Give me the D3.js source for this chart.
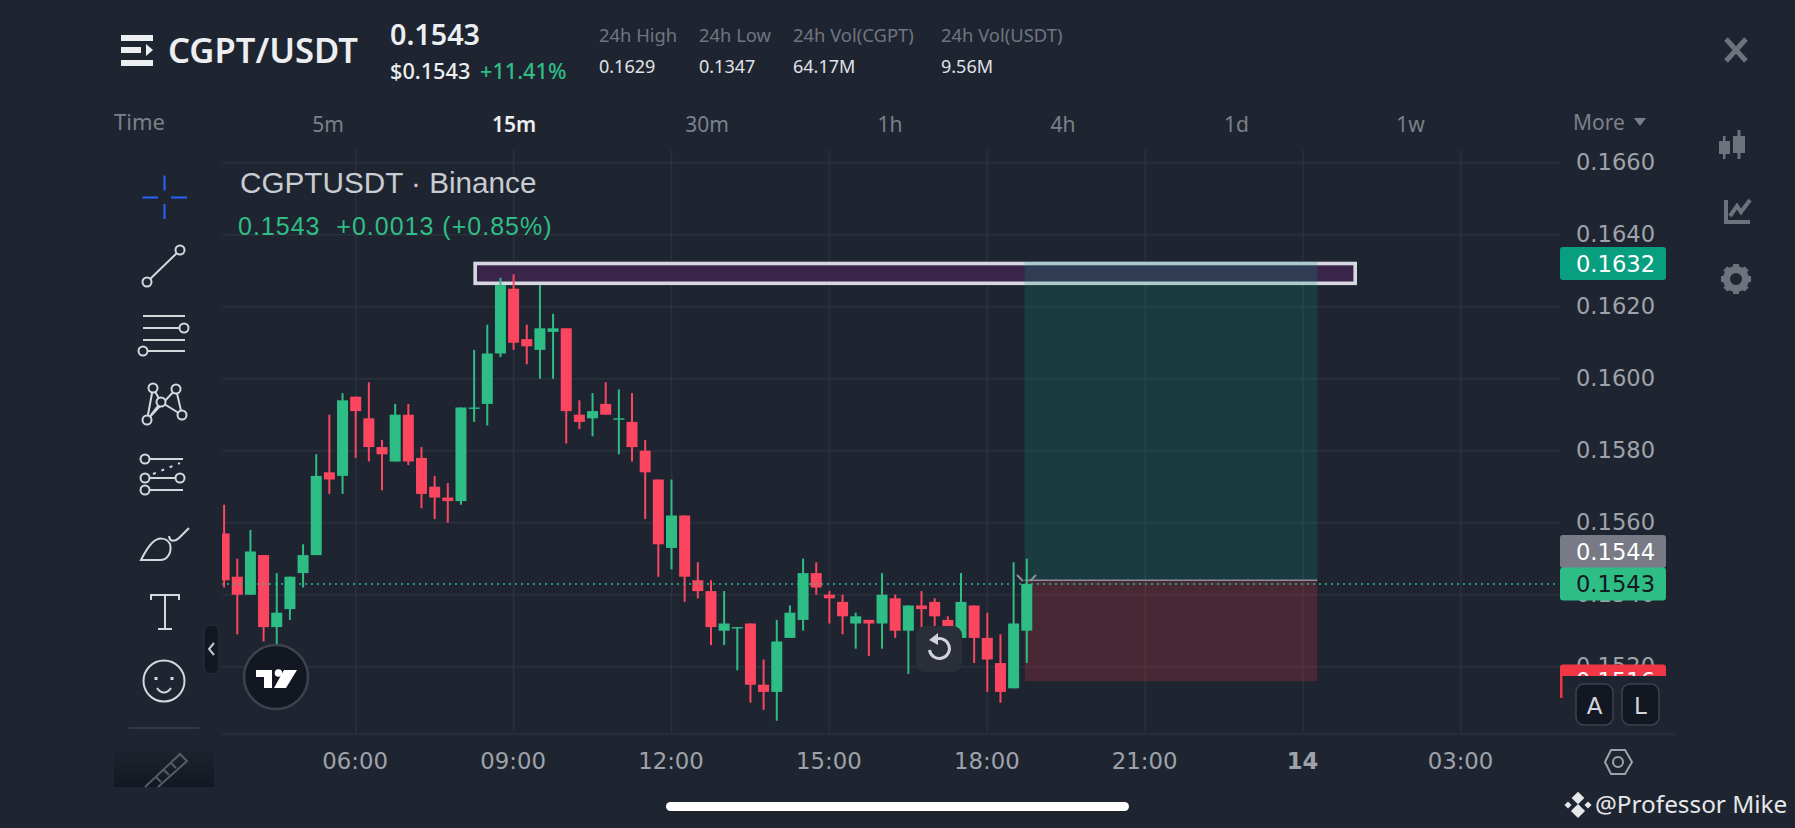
<!DOCTYPE html>
<html><head><meta charset="utf-8">
<script src="https://cdn.jsdelivr.net/npm/d3@7/dist/d3.min.js"></script>
<style>html,body{margin:0;padding:0;background:#1f2530;overflow:hidden}svg{display:block}</style>
</head><body><svg id="c" width="1795" height="828"></svg>
<script>
const startHour = 3.5, stepHour = 0.25;
const opens  = [.1557,.1545,.1540,.1551,.1531,.1536,.1546,.1551,.1574,.1573,.1595,.1589,.1581,.1577,.1590,.1578,.1570,.1567,.1566,.1592,.1593,.1607,.1625,.1611,.1608,.1613,.1614,.1590,.1589,.1593,.1589,.1588,.1580,.1572,.1553,.1562,.1544,.1541,.1530,.1531,.1532,.1515,.1513,.1528,.1533,.1546,.1540,.1538,.1532,.1533,.1532,.1539,.1530,.1537,.1538,.1533,.1528,.1537,.1528,.1521,.1514,.1530];
const highs  = [.1565,.1550,.1558,.1551,.1546,.1545,.1554,.1579,.1590,.1596,.1595,.1599,.1583,.1593,.1593,.1581,.1573,.1571,.1592,.1608,.1615,.1628,.1629,.1615,.1626,.1618,.1614,.1594,.1596,.1599,.1597,.1596,.1583,.1572,.1572,.1562,.1549,.1544,.1541,.1531,.1532,.1522,.1533,.1537,.1550,.1549,.1541,.1540,.1535,.1533,.1546,.1540,.1537,.1541,.1539,.1534,.1546,.1537,.1535,.1529,.1549,.1550];
const lows   = [.1542,.1529,.1540,.1527,.1525,.1533,.1542,.1551,.1568,.1568,.1578,.1577,.1569,.1577,.1576,.1564,.1561,.1560,.1565,.1588,.1587,.1606,.1608,.1604,.1600,.1600,.1582,.1586,.1584,.1590,.1579,.1577,.1561,.1545,.1547,.1538,.1539,.1526,.1526,.1519,.1510,.1508,.1505,.1528,.1530,.1540,.1532,.1529,.1525,.1523,.1525,.1528,.1518,.1530,.1531,.1528,.1528,.1521,.1513,.1510,.1514,.1521];
const closes = [.1544,.1540,.1552,.1531,.1535,.1545,.1551,.1573,.1572,.1594,.1591,.1581,.1579,.1590,.1577,.1568,.1567,.1566,.1592,.1592,.1607,.1626,.1610,.1609,.1614,.1614,.1591,.1588,.1591,.1590,.1589,.1581,.1574,.1554,.1562,.1545,.1541,.1531,.1532,.1531,.1515,.1513,.1527,.1535,.1546,.1542,.1539,.1534,.1534,.1532,.1540,.1530,.1537,.1536,.1534,.1530,.1538,.1528,.1522,.1513,.1532,.1543];
const priceTicks = [.1660,.1640,.1620,.1600,.1580,.1560,.1540,.1520];
const timeTicks = [6,9,12,15,18,21,24,27];
const timeLabels = ["06:00","09:00","12:00","15:00","18:00","21:00","14","03:00"];
const intervals = ["5m","15m","30m","1h","4h","1d","1w"];
const statLabels = ["24h High","24h Low","24h Vol(CGPT)","24h Vol(USDT)"];
const statValues = ["0.1629","0.1347","64.17M","9.56M"];
const zoneHigh=.1632, zoneLow=.16265, zoneStart=8.27, zoneEnd=24.99;
const posStart=18.71, posEnd=24.27, posTarget=.1632, posEntry=.1544, posStop=.1516, lastPrice=.1543;

const GREEN="#2ebd85",RED="#fc4660",BG="#1f2530",GRID="#2b313c",AXT="#9ea2aa",ICON="#d5d7dd",DIM="#6d727c";
const SANS="'Noto Sans',sans-serif", TV="'DejaVu Sans',sans-serif", LEG="'Liberation Sans',sans-serif";
const svg=d3.select("#c");
const x=d3.scaleLinear().domain([6,27]).range([355.7,1461]);
const y=d3.scaleLinear().domain([.15,.166]).range([738.7,162.7]);
svg.append("rect").attr("width",1795).attr("height",828).attr("fill",BG);
const defs=svg.append("defs");
defs.append("clipPath").attr("id","plot").append("rect").attr("x",222).attr("y",150).attr("width",1338).attr("height",584);
const lg=defs.append("linearGradient").attr("id","fade").attr("x1",0).attr("x2",0).attr("y1",0).attr("y2",1);
lg.append("stop").attr("offset",0).attr("stop-color","#131722").attr("stop-opacity",0);
lg.append("stop").attr("offset",1).attr("stop-color","#131722").attr("stop-opacity",1);
const plot=svg.append("g").attr("clip-path","url(#plot)");

plot.selectAll(".gv").data(timeTicks).join("line").attr("x1",d=>x(d)).attr("x2",d=>x(d)).attr("y1",150).attr("y2",734).attr("stroke",GRID).attr("stroke-width",1.5);
plot.selectAll(".gh").data(priceTicks).join("line").attr("x1",222).attr("x2",1560).attr("y1",d=>y(d)).attr("y2",d=>y(d)).attr("stroke",GRID).attr("stroke-width",1.5);

// zone rectangle
plot.append("rect").attr("x",x(zoneStart)).attr("y",y(zoneHigh)).attr("width",x(zoneEnd)-x(zoneStart)).attr("height",y(zoneLow)-y(zoneHigh)).attr("fill","#3a2449").attr("stroke","#d6d7e0").attr("stroke-width",3.6);
// position boxes
plot.append("rect").attr("x",x(posStart)).attr("y",y(posTarget)-2).attr("width",x(posEnd)-x(posStart)).attr("height",y(posEntry)-y(posTarget)+2).attr("fill","rgb(8,153,129)").attr("fill-opacity",.2);
plot.append("rect").attr("x",x(posStart)).attr("y",y(posEntry)).attr("width",x(posEnd)-x(posStart)).attr("height",y(posStop)-y(posEntry)).attr("fill","rgb(242,54,69)").attr("fill-opacity",.2);
plot.append("line").attr("x1",x(posStart)).attr("x2",x(posEnd)).attr("y1",y(posEntry)).attr("y2",y(posEntry)).attr("stroke","#8c8f99").attr("stroke-width",1.5);

// candles
const candles=opens.map((o,i)=>({h:startHour+i*stepHour,o,hi:highs[i],lo:lows[i],c:closes[i]}));
const colr=d=>d.c>=d.o?GREEN:RED;
const g=plot.selectAll(".cd").data(candles).join("g");
g.append("line").attr("x1",d=>x(d.h)).attr("x2",d=>x(d.h)).attr("y1",d=>y(d.hi)).attr("y2",d=>y(d.lo)).attr("stroke",colr).attr("stroke-width",2);
g.append("rect").attr("x",d=>x(d.h)-5.5).attr("width",11).attr("y",d=>y(Math.max(d.o,d.c))).attr("height",d=>Math.max(1.4,Math.abs(y(d.o)-y(d.c)))).attr("fill",colr);

// last price dotted
plot.append("line").attr("x1",222).attr("x2",1560).attr("y1",y(lastPrice)).attr("y2",y(lastPrice)).attr("stroke",GREEN).attr("stroke-width",2).attr("stroke-dasharray","0 6").attr("stroke-linecap","round");
// entry tick marks
const m=svg.append("g").attr("stroke","#8c8f99").attr("stroke-width",2);
m.append("line").attr("x1",1017).attr("y1",575).attr("x2",1023).attr("y2",581);
m.append("line").attr("x1",1030).attr("y1",581).attr("x2",1036).attr("y2",575);

// axes
const AXF=22.6;
const ya=d3.axisRight(y).tickValues(priceTicks).tickFormat(d3.format(".4f")).tickSize(0);
const yg=svg.append("g").attr("transform","translate(1615.5,0)").call(ya);
yg.select(".domain").remove();
yg.selectAll("text").attr("x",0).attr("text-anchor","middle").attr("font-family",TV).attr("font-size",AXF).attr("fill",AXT);
const xa=d3.axisBottom(x).tickValues(timeTicks).tickFormat((d,i)=>timeLabels[i]).tickSize(0);
const xg=svg.append("g").attr("transform","translate(-1,762)").call(xa);
xg.select(".domain").remove();
xg.selectAll("text").attr("y",0).attr("dy","0.32em").attr("font-family",TV).attr("font-size",22.8).attr("fill",AXT).attr("font-weight",(d,i)=>timeLabels[i]==="14"?"bold":"normal");
svg.append("line").attr("x1",222).attr("x2",1675).attr("y1",734).attr("y2",734).attr("stroke",GRID).attr("stroke-width",1.5);

// price labels: p is the printed price, centre is where the tag sits
function tag(p,centre,fill,col){
  const gg=svg.append("g");
  gg.append("rect").attr("x",1560).attr("y",centre-16.5).attr("width",106).attr("height",33).attr("rx",3).attr("fill",fill);
  gg.append("text").attr("x",1615.5).attr("y",centre).attr("dy","0.36em").attr("text-anchor","middle").attr("font-family",TV).attr("font-size",AXF).attr("fill",col).text(d3.format(".4f")(p));
}
tag(posStop,y(posStop),"#f23645","#fff");
svg.append("rect").attr("x",1560).attr("y",666).attr("width",2.5).attr("height",32).attr("fill","#f23645");
svg.append("rect").attr("x",1562.5).attr("y",676).attr("width",112).attr("height",57).attr("fill",BG);
tag(posTarget,y(posTarget),"#089f80","#fff");
tag(posEntry,551.5,"#787b86","#fff");
tag(lastPrice,y(lastPrice),GREEN,"#131722");
// A L buttons
[["A",1576],["L",1622]].forEach(([t,xx])=>{
  svg.append("rect").attr("x",xx).attr("y",684).attr("width",37).attr("height",41).attr("rx",8).attr("fill","#131722").attr("stroke","#3d424d").attr("stroke-width",1.5);
  svg.append("text").attr("x",xx+18.5).attr("y",714).attr("text-anchor","middle").attr("font-family",TV).attr("font-size",23).attr("fill","#d1d4dc").text(t);
});
// text helper
function T(t,xx,yy,size,fill,o={}){return svg.append("text").attr("x",xx).attr("y",yy).attr("font-family",o.f||SANS).attr("font-size",size).attr("fill",fill).attr("font-weight",o.w||400).attr("text-anchor",o.a||"start").text(t);}
// header
const hb=svg.append("g").attr("fill","#eceef1");
hb.append("rect").attr("x",121).attr("y",35).attr("width",32).attr("height",6);
hb.append("rect").attr("x",121).attr("y",47).attr("width",20).attr("height",6);
hb.append("path").attr("d","M146 44 L153 50 L146 56 Z");
hb.append("rect").attr("x",121).attr("y",60).attr("width",32).attr("height",6);
T("CGPT/USDT",168,63,34.6,"#eceef1",{w:600});
T("0.1543",390,45,28.7,"#eceef1",{w:600});
T("$0.1543",390,79,21.7,"#eceef1",{w:500});
T("+11.41%",480,79,21.7,GREEN,{w:500});
const sx=[599,699,793,941];
statLabels.forEach((s,i)=>{T(s,sx[i],42,18.4,"#6f7580");T(statValues[i],sx[i],73,18,"#e0e3e8");});
// close X
svg.append("path").attr("d","M1726 39 L1746 61 M1746 39 L1726 61").attr("stroke",DIM).attr("stroke-width",5).attr("fill","none");
// interval tabs
T("Time",114,130,22,"#7b808a");
const tx=[328,514,707,890,1063,1236.5,1410.5];
intervals.forEach((s,i)=>T(s,tx[i],132,21,s==="15m"?"#eceef1":"#7b808a",{a:"middle",w:s==="15m"?600:400}));
T("More",1573,130,21,"#7b808a");
svg.append("path").attr("d","M1634 118 L1646 118 L1640 126 Z").attr("fill","#7b808a");
// chart legend
T("CGPTUSDT · Binance",240,193,29.7,"#c9ccd2",{f:LEG});
T("0.1543  +0.0013 (+0.85%)",238,235,25,GREEN,{f:LEG}).attr("letter-spacing",1).style("white-space","pre");

// left toolbar icons
const ic=svg.append("g").attr("fill","none").attr("stroke",ICON).attr("stroke-width",2);
const ci=(a,b,r=4.5)=>ic.append("circle").attr("cx",a).attr("cy",b).attr("r",r).attr("fill",BG);
const pa=(d,w)=>ic.append("path").attr("d",d).attr("stroke-width",w||2);
svg.append("path").attr("d","M142.5 197.5H158M171 197.5H187M164.5 175.5V190.5M164.5 204V219").attr("stroke","#2962ff").attr("stroke-width",2).attr("fill","none");
pa("M147 282L180 250");ci(147,282);ci(180,250);
pa("M143 316H185M143 328H184M143 340H185M143 351H185");ci(184,328);ci(143,351);
pa("M153 388L147 420L176 389L182 415L161 402L153 388M161 402L147 420");ci(153,388);ci(176,389);ci(161,402);ci(147,420);ci(182,415);
pa("M145 459H183M145 478H180M145 490H183");ci(145,459);ci(145,478);ci(180,478);ci(145,490);
ic.append("path").attr("d","M153 474L180 463").attr("stroke-dasharray","3 6");
pa("M141 560L160 560C168 560 172 552 170 544C166 537 158 537 152 543C147 548 144 554 141 560ZM169 536C170 543 176 541 179 538L189 528");
pa("M151 600V595H179V600M165 595V629M158 629H172");
ic.append("circle").attr("cx",164).attr("cy",681).attr("r",20.5);
pa("M156 680L156 677M172 680L172 677",3);
pa("M157 688C161 694 167 694 171 688");
svg.append("line").attr("x1",129).attr("x2",199).attr("y1",728).attr("y2",728).attr("stroke","#3d424d").attr("stroke-width",1.5);
svg.append("rect").attr("x",114).attr("y",743).attr("width",100).attr("height",44).attr("fill","url(#fade)");
svg.append("path").attr("d","M145 787L180 754L187 761L158 787M156 777L161 782M164 770L169 775M171 763L176 768").attr("stroke","#565b65").attr("stroke-width",2).attr("fill","none");
// collapse pill
svg.append("rect").attr("x",204).attr("y",625).attr("width",15).attr("height",49).attr("rx",7).attr("fill","#131722").attr("stroke","#2b313c");
svg.append("path").attr("d","M214 643L209 649L214 655").attr("stroke","#c5c8ce").attr("stroke-width",2).attr("fill","none");
// TV logo
svg.append("circle").attr("cx",276).attr("cy",677).attr("r",32).attr("fill","#131722").attr("stroke","#3d424d").attr("stroke-width",2.5);
svg.append("path").attr("d","M256 670H272V688H264V677H256ZM284 670H297L286 688H274Z").attr("fill","#fff");
svg.append("circle").attr("cx",278.5).attr("cy",673).attr("r",3.8).attr("fill","#fff");
// refresh
svg.append("rect").attr("x",916).attr("y",626).attr("width",46).attr("height",46).attr("rx",9).attr("fill","#2a2e39");
svg.append("path").attr("d","M934 640A10 10 0 1 1 929.5 650").attr("stroke","#d1d4dc").attr("stroke-width",3).attr("fill","none");
svg.append("path").attr("d","M938 633V645L929 640Z").attr("fill","#d1d4dc");
// right icons
const ri=svg.append("g").attr("fill",DIM);
ri.append("rect").attr("x",1723).attr("y",136).attr("width",2.5).attr("height",23);
ri.append("rect").attr("x",1719).attr("y",141).attr("width",11).attr("height",13);
ri.append("rect").attr("x",1731).attr("y",130).attr("width",16).attr("height",0);
ri.append("rect").attr("x",1737.5).attr("y",130).attr("width",3).attr("height",29);
ri.append("rect").attr("x",1733).attr("y",136).attr("width",12).attr("height",17);
svg.append("path").attr("d","M1726 200V222H1750M1730 216L1737 206L1741 212L1750 200").attr("stroke",DIM).attr("stroke-width",4).attr("fill","none");
const gear=svg.append("g").attr("transform","translate(1736,279)");
gear.append("circle").attr("r",9.5).attr("fill","none").attr("stroke",DIM).attr("stroke-width",7);
d3.range(8).forEach(i=>gear.append("rect").attr("x",-3).attr("y",-15).attr("width",6).attr("height",6).attr("fill",DIM).attr("transform",`rotate(${i*45})`));
// hexagon settings
svg.append("path").attr("d","M1605 762L1611 750H1625L1632 762L1625 774H1611Z").attr("fill","none").attr("stroke",AXT).attr("stroke-width",2);
svg.append("circle").attr("cx",1618).attr("cy",762).attr("r",5).attr("fill","none").attr("stroke",AXT).attr("stroke-width",2);
// home bar
svg.append("rect").attr("x",666).attr("y",802).attr("width",463).attr("height",9).attr("rx",4.5).attr("fill","#fff");
// watermark
const wm=svg.append("g").attr("fill","#e5e7ea");
[[1578,798,4.5],[1568,805,2.5],[1588,805,2.5],[1578,811,5]].forEach(([a,b,r])=>wm.append("rect").attr("x",a-r).attr("y",b-r).attr("width",2*r).attr("height",2*r).attr("transform",`rotate(45 ${a} ${b})`));
T("@Professor Mike",1595,813,24.3,"#e5e7ea");
</script></body></html>
